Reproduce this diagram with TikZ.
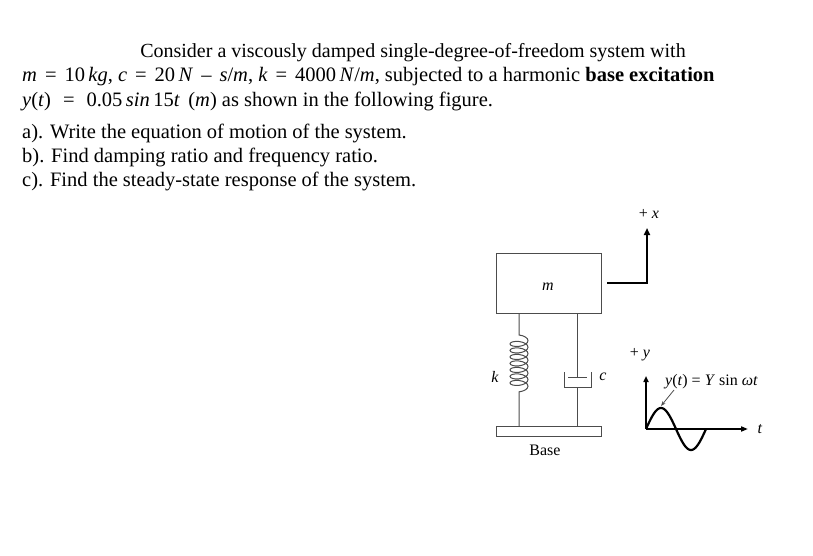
\documentclass[tikz,border=0pt]{standalone}
\usepackage{fontspec}
\setmainfont{Liberation Serif}
\usetikzlibrary{decorations.pathmorphing,arrows.meta}
\newcommand{\qe}{\hspace{8pt}=\hspace{8pt}}
\newcommand{\qm}{\hspace{8pt}--\hspace{8pt}}
\begin{document}
\begin{tikzpicture}[x=1pt,y=-1pt,
  txt/.style={anchor=west,inner sep=0pt,font=\fontsize{20.5}{22}\selectfont},
  lab/.style={inner sep=0pt,font=\fontsize{16}{17}\selectfont},
  thin/.style={line width=0.8pt,draw=black!70}]
\useasboundingbox (0,0) rectangle (813,556);
\node[inner sep=0pt,font=\fontsize{20}{22}\selectfont] (t1) at (413,53) {Consider a viscously damped single-degree-of-freedom system with};
\node[txt] (t2) at (22,77) {\textit{m}\qe 10\,\textit{kg}, \textit{c}\qe 20\,\textit{N}\qm\textit{s}/\textit{m}, \textit{k}\qe 4000\,\textit{N}/\textit{m}, subjected to a harmonic \textbf{base excitation}};
\node[txt] (t3) at (22,101) {\textit{y}(\textit{t})\hspace{12pt}=\hspace{12pt}0.05\,\textit{sin}\,15\textit{t}\, (\textit{m}) as shown in the following figure.};
\node[txt] (a) at (22,133) {a). Write the equation of motion of the system.};
\node[txt] (b) at (22,157) {b). Find damping ratio and frequency ratio.};
\node[txt] (c) at (22,181) {c). Find the steady-state response of the system.};
% mass
\node[thin,draw,minimum width=105,minimum height=60,inner sep=0pt] (mass) at (548.5,283) {};
\node[lab] at (548,287) {\textit{m}};
% base
\node[thin,draw,minimum width=105,minimum height=10,inner sep=0pt] (base) at (548.5,431) {};
\node[lab] (bl) at (545,450) {Base};
% spring
\coordinate (s1) at (519,313);
\coordinate (s2) at (519,426);
\draw[thin,line width=1pt] (s1) -- (519,335) decorate[decoration={coil,aspect=0.45,segment length=6.5pt,amplitude=9pt}]{-- (519,395)} -- (s2);
\node[lab] at (495,377) {\textit{k}};
% damper
\draw[thin] (577,313) -- (577,377);
\draw[thin] (568,377) -- (587,377);
\draw[thin] (564,372) -- (564,387) -- (591,387) -- (591,372);
\draw[thin] (577,387) -- (577,426);
\node[lab] at (603,377) {\textit{c}};
% x arrow
\draw[line width=2.2pt,-{Triangle[length=7pt,width=6pt]}] (607,283) -- (647,283) -- (647,228);
\node[lab] at (649,214) {+ \textit{x}};
% graph
\coordinate (o) at (646,429);
\draw[line width=1.8pt,-{Triangle[length=6pt,width=5pt]}] (o) -- (646,376);
\draw[line width=1.8pt,-{Triangle[length=7pt,width=5pt]}] (o) -- (748,429);
\node[lab] at (640,355) {+ \textit{y}};
\node[lab] at (760,429) {\textit{t}};
\draw[line width=2.2pt,domain=0:60,samples=60,smooth] plot ({646+\x},{429-21*sin(6*\x)});
\node[lab,anchor=west] at (665,382) {\textit{y}(\textit{t}) = \textit{Y} sin \textit{ωt}};
\draw[thin,-{Stealth[length=5pt]}] (674,390) -- (661,406);
\end{tikzpicture}
\end{document}
